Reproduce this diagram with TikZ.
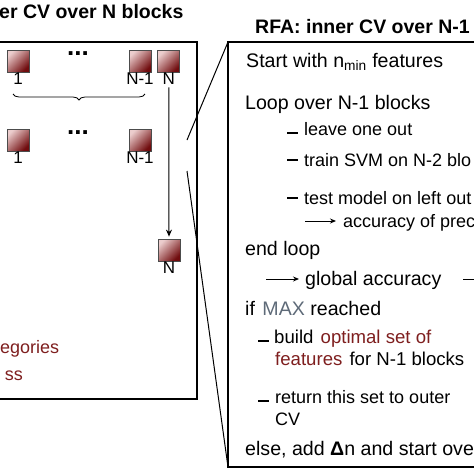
\documentclass[tikz,border=0pt]{standalone}
\usepackage{fontspec}
\setmainfont{Liberation Sans}
\usetikzlibrary{positioning,calc,arrows.meta,decorations.pathreplacing}

\definecolor{wine}{HTML}{7E1E1E}
\definecolor{slate}{HTML}{5E6A78}
\definecolor{blockhi}{RGB}{236,205,205}
\definecolor{blocklo}{RGB}{112,12,14}
\newcommand{\lowbar}{\rule[1pt]{11pt}{2pt}}
\newcommand{\midbar}{\rule[5.5pt]{11pt}{1.6pt}}

\tikzset{
	block/.style={draw=black!70, line width=0.8pt, minimum size=22pt, inner sep=0pt,
		top color=blockhi, bottom color=blocklo, shading angle=45, label distance=0pt},
	lbl/.style={font=\fontsize{17}{17}\selectfont, inner sep=0pt},
	txt/.style={font=\fontsize{19.6}{22}\selectfont, anchor=base west, inner sep=0pt},
	subtxt/.style={txt, font=\fontsize{18}{22}\selectfont},
	ttl/.style={font=\fontsize{19.5}{22}\selectfont\bfseries, anchor=base west, inner sep=0pt},
	dotsrow/.style={font=\fontsize{26}{26}\selectfont\bfseries},
	frame/.style={line width=1.4pt},
	arr/.style={-{Stealth[length=7pt,width=6pt]}, line width=1pt},
	pointer/.style={-{Stealth[length=6pt,width=5pt]}, line width=0.9pt}
}

\begin{document}
\begin{tikzpicture}[x=1pt, y=-1pt]
		\useasboundingbox (0,0) rectangle (474,474);
		\clip (0,0) rectangle (474,474);
		% outer CV
		\node[ttl] (outer) at (-1,18) {er CV over N blocks};
		\draw[frame] (-5,42) rectangle (197,399);
		\node[block, label={[lbl]below:1}] (b1) at (18,61) {};
		\node[block, label={[lbl]below:N-1}] (bn1) at (140,61) {};
		\node[block, right = 6pt of bn1, label={[lbl, name=lN]below:N}] (bN) {};
		\node[dotsrow] (dots1) at (78,54) {...};
		\coordinate (brl) at (13,94);
		\coordinate (brr) at (145,94);
		\draw[decorate, decoration={brace, mirror, amplitude=6pt}, line width=0.8pt] (brl) -- (brr);
		\node[block, label={[lbl]below:1}] (c1) at (18,140) {};
		\node[block, label={[lbl]below:N-1}] (cn1) at (140,140) {};
		\node[dotsrow] (dots2) at (78,133) {...};
		\node[block, label={[lbl]below:N}] (test) at (169,250) {};
		\draw[arr, shorten >=2pt] ([yshift=-3pt]lN.south) -- (test.north);
		\node[subtxt, text=wine] (cat) at (0,353) {egories};
		\node[subtxt, anchor=base east, text=wine] (cls) at (23,380) {ss};
		% zoom lines
		\coordinate (rtl) at (228,42);
		\coordinate (rbl) at (228,467);
		\coordinate (z1) at (187,140);
		\coordinate (z2) at (187,171);
		\draw[line width=1pt] (z1) -- (rtl) (z2) -- (rbl);
		% RFA inner CV
		\node[ttl] (rfa) at (255,33) {RFA: inner CV over N-1};
		\draw[frame] (rtl) rectangle (482,467);
		\node[txt] (start) at (246,67) {Start with n\textsubscript{min} features};
		\node[txt] (loop) at (245,109) {Loop over N-1 blocks};
		\node[subtxt] (leave) at (287,135) {\lowbar\hspace{6pt}leave one out};
		\node[subtxt] (train) at (287,166) {\midbar\hspace{6pt}train SVM on N-2 blo};
		\node[subtxt] (testm) at (287,204) {\midbar\hspace{6pt}test model on left out};
		\node[subtxt] (acc) at (343,227) {accuracy of prec};
		\coordinate (a1) at (305,221);
		\draw[pointer] (a1) -- ([xshift=-7pt, yshift=6pt]acc.base west);
		\node[txt] (endl) at (245,255) {end loop};
		\node[txt] (glob) at (305,285) {global accuracy};
		\coordinate (a2) at (266,279);
		\draw[pointer] (a2) -- ([xshift=-6pt, yshift=6pt]glob.base west);
		\coordinate (a3) at (463,279);
		\coordinate (a4) at (476,279);
		\draw[line width=1pt] (a3) -- (a4);
		\node[txt] (ifmax) at (245,315) {if \hspace{2pt}\textcolor{slate}{MAX} reached};
		\node[subtxt, font=\fontsize{18.6}{22}\selectfont] (build) at (258,343) {\lowbar\hspace{5pt}build \hspace{2pt}\textcolor{wine}{optimal set of}};
		\node[subtxt, font=\fontsize{18.6}{22}\selectfont] (feat) at (275,365) {\textcolor{wine}{features} \hspace{2pt}for N-1 blocks};
		\node[subtxt] (ret) at (258,403) {\lowbar\hspace{6pt}return this set to outer};
		\node[subtxt] (cv) at (275,425) {CV};
		\node[txt] (else) at (245,455) {else, add \textbf{Δ}n and start ove};
\end{tikzpicture}
\end{document}
